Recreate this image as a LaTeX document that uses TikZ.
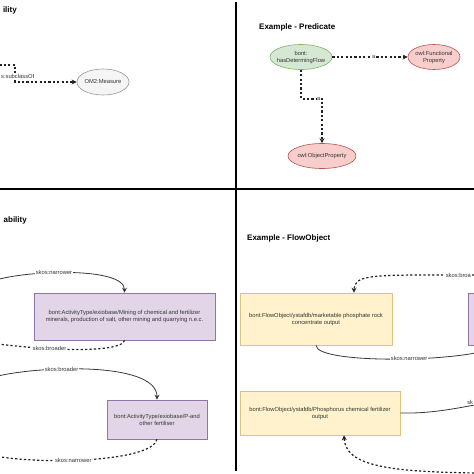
\documentclass[tikz,border=0pt]{standalone}
\usepackage{fontspec}
\setmainfont{Liberation Sans}
\usetikzlibrary{arrows.meta,shapes.geometric}
\definecolor{txt}{HTML}{333333}
\definecolor{lne}{HTML}{222222}
\definecolor{grnF}{HTML}{D5E8D4}\definecolor{grnD}{HTML}{82B366}
\definecolor{redF}{HTML}{F8CECC}\definecolor{redD}{HTML}{B85450}
\definecolor{purF}{HTML}{E1D5E7}\definecolor{purD}{HTML}{9673A6}
\definecolor{yelF}{HTML}{FFF2CC}\definecolor{yelD}{HTML}{DCC47E}
\definecolor{gryF}{HTML}{F5F5F5}\definecolor{gryD}{HTML}{999999}
\begin{document}
\begin{tikzpicture}[x=1pt,y=-1pt,
  lbl/.style={font=\fontsize{5.8}{7}\selectfont, text=txt, align=center, inner sep=0.6pt},
  ttl/.style={font=\fontsize{8}{9}\selectfont\bfseries, text=black, inner sep=0pt},
  ell/.style={ellipse, draw, line width=0.6pt, inner sep=0pt},
  box/.style={rectangle, draw, line width=0.6pt, inner sep=0pt, lbl},
  dsh/.style={draw=lne, line width=1.2pt, dash pattern=on 2.2pt off 2.2pt},
  sol/.style={draw=lne!90, line width=0.8pt},
  tip/.style={-{Stealth[length=5pt,width=5pt]}},
  divider/.style={line width=1.8pt, draw=black}]
\useasboundingbox (0,0) rectangle (474,474);
\clip (0,0) rectangle (474,474);
\fill[white] (0,0) rectangle (474,474);

% dividers
\coordinate (vtop) at (236,2);
\coordinate (vbot) at (236,471);
\coordinate (hl) at (0,189);
\coordinate (hr) at (474,189);
\draw[divider] (vtop) -- (vbot);
\draw[divider] (hl) -- (hr);

% ---------- top left ----------
\node[ttl, anchor=east] (tTL) at (17,10) {ility};
\node[ell, fill=gryF, draw=gryD, minimum width=52, minimum height=26,
      label={[lbl]center:{OM2:Measure}}] (om2) at (103,82) {};
\coordinate (tlin) at (-5,65);
\coordinate (tlc1) at (15,65);
\coordinate (tlc2) at (15,82);
\draw[dsh, tip] (tlin) -- (tlc1) -- (tlc2) -- (om2.west);
\node[lbl, fill=white, anchor=west] (sub) at (0.3,76) {s:subclassOf};

% ---------- top right ----------
\node[ttl, anchor=west] (tTR) at (259,27) {Example - Predicate};
\node[ell, fill=grnF, draw=grnD, minimum width=62, minimum height=25,
      label={[lbl]center:{bont:\\hasDetermingFlow}}] (hdf) at (301,57) {};
\node[ell, fill=redF, draw=redD, minimum width=52, minimum height=25,
      label={[lbl]center:{owl:Functional\\Property}}] (fp) at (434,57) {};
\node[ell, fill=redF, draw=redD, minimum width=68, minimum height=25,
      label={[lbl]center:{owl:ObjectProperty}}] (op) at (322,156) {};
\draw[dsh, tip] (hdf.east) -- node[lbl, fill=white, pos=0.55] (a1) {a} (fp.west);
\draw[dsh, tip] (hdf.south) -- (hdf.south |- 0,99) -- node[lbl, fill=white, pos=0.85] (a2) {a} (op.north |- 0,99) -- (op.north);

% ---------- bottom left ----------
\node[ttl, anchor=east] (tBL) at (27,220) {ability};
\node[box, fill=purF, draw=purD, minimum width=181, minimum height=47] (m1) at (124.5,316.5)
  {bont:ActivityType/exiobase/Mining of chemical and fertilizer\\minerals, production of salt, other mining and quarrying n.e.c.};
\node[box, fill=purF, draw=purD, minimum width=100, minimum height=39] (m2) at (157,419.5)
  {bont:ActivityType/exiobase/P-and\\other fertiliser};
\coordinate (bl1) at (-10,282);
\coordinate (bl2) at (-10,343);
\coordinate (bl3) at (-10,378);
\coordinate (bl4) at (-10,455);
\draw[sol, tip] (bl1) .. controls (20,270) and (124.5,266) .. node[lbl, fill=white, pos=0.42] (n1) {skos:narrower} (m1.north);
\draw[dsh, tip] (m1.south) .. controls (122,352) and (60,352) .. node[lbl, fill=white, pos=0.7] (b1) {skos:broader} (bl2);
\draw[sol, tip] (bl3) .. controls (30,366) and (157,360) .. node[lbl, fill=white, pos=0.38] (b2) {skos:broader} (m2.north);
\draw[dsh, tip] (m2.south) .. controls (152,462) and (40,465) .. node[lbl, fill=white, pos=0.58] (n2) {skos:narrower} (bl4);

% ---------- bottom right ----------
\node[ttl, anchor=west] (tBR) at (247,238) {Example - FlowObject};
\node[box, fill=yelF, draw=yelD, minimum width=152, minimum height=52] (y1) at (316,319)
  {bont:FlowObject/ystafdb/marketable phosphate rock\\concentrate output};
\node[box, fill=yelF, draw=yelD, minimum width=160, minimum height=44] (y2) at (320,413)
  {bont:FlowObject/ystafdb/Phosphorus chemical fertilizer\\output};
\node[box, fill=purF, draw=purD, minimum width=100, minimum height=52] (p1) at (518,319) {};
\coordinate (br1) at (540,275);
\coordinate (brk) at (430,275);
\coordinate (br2) at (540,393);
\coordinate (br3) at (540,473);
\draw[dsh, tip] (br1) -- (brk) .. controls (370,275) and (354,276) .. ([xshift=38pt]y1.north);
\node[lbl, fill=white, anchor=west] (b3) at (445,275) {skos:broa};
\draw[sol, tip] (y1.south) .. controls (316,365) and (470,362) .. node[lbl, fill=white, pos=0.55] (n3) {skos:narrower} ([xshift=30pt]p1.south west);
\draw[sol, tip] (y2.east) .. controls (440,414) and (470,405) .. (br2);
\node[lbl, fill=white, anchor=west] (n4) at (466.5,402) {sk};
\draw[dsh, tip] (br3) .. controls (400,474) and (346,470) .. ([xshift=24pt]y2.south);
\end{tikzpicture}
\end{document}
